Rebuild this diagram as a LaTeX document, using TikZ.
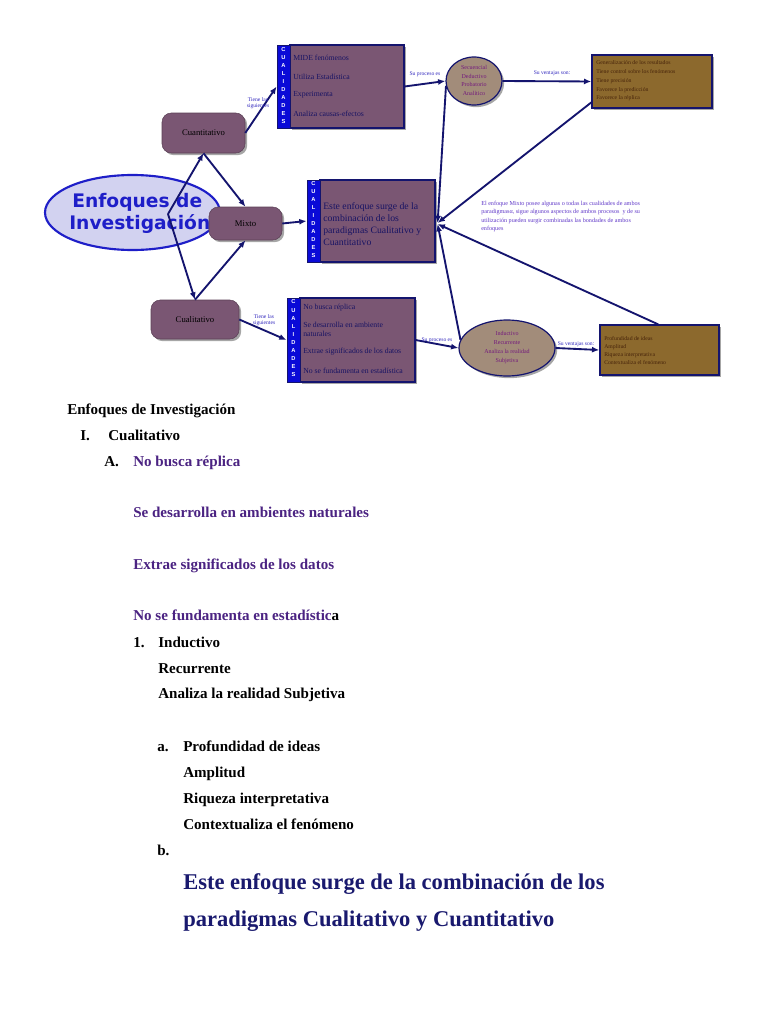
\documentclass[tikz,border=0pt]{standalone}
\usepackage{fontspec}
\setmainfont{Liberation Serif}
\newfontfamily\dvs{DejaVu Sans}
\newfontfamily\lsans{Liberation Sans}
\usetikzlibrary{shapes.geometric,arrows.meta,shadows,calc}
\definecolor{navy}{RGB}{20,20,110}
\definecolor{mauve}{RGB}{122,86,115}
\definecolor{stripblue}{RGB}{10,10,215}
\definecolor{tanell}{RGB}{162,140,122}
\definecolor{brownbox}{RGB}{140,105,45}
\definecolor{lav}{RGB}{210,210,240}
\definecolor{titleblue}{RGB}{30,30,200}
\definecolor{purp}{RGB}{75,35,130}
\definecolor{lblblue}{RGB}{50,40,190}
\definecolor{itemnavy}{RGB}{25,20,100}
\definecolor{boxtext}{RGB}{70,35,10}
\definecolor{elltext}{RGB}{115,25,125}
\definecolor{paratext}{RGB}{95,55,200}
\definecolor{bignavy}{RGB}{25,25,110}
\tikzset{
  shad/.style={drop shadow={shadow xshift=1.6pt,shadow yshift=-1.6pt,fill=black,opacity=0.35}},
  rbox/.style={shad,draw=mauve!75!black,line width=0.4pt,fill=mauve,rounded corners=7pt,inner sep=0pt,font=\fontsize{6.5}{7}\selectfont},
  qbox/.style={shad,draw=navy,line width=0.9pt,fill=mauve,inner sep=0pt},
  strip/.style={draw=navy,line width=0.6pt,fill=stripblue,inner sep=0pt},
  sletter/.style={font=\lsans\bfseries\fontsize{4.3}{5}\selectfont,text=white,inner sep=0pt},
  item/.style={anchor=west,inner sep=0pt,text=itemnavy,font=\fontsize{5.8}{6}\selectfont},
  ell/.style={ellipse,shad,draw=navy,line width=0.9pt,fill=tanell,inner sep=0pt},
  etext/.style={inner sep=0pt,text=elltext,font=\fontsize{4.5}{5}\selectfont},
  bbox/.style={shad,draw=navy,line width=1pt,fill=brownbox,inner sep=0pt},
  btext/.style={anchor=west,inner sep=0pt,text=boxtext,font=\fontsize{4.2}{5}\selectfont},
  conn/.style={draw=navy,line width=1.4pt,-{Latex[length=5.5pt,width=4.5pt]}},
  lbl/.style={inner sep=0pt,text=lblblue,font=\fontsize{4.2}{5}\selectfont,align=center},
  doc/.style={anchor=base west,inner sep=0pt,font=\bfseries\fontsize{11.3}{12}\selectfont},
  docp/.style={doc,text=purp},
  big/.style={anchor=base west,inner sep=0pt,text=bignavy,font=\bfseries\fontsize{16.9}{18}\selectfont}
}
\begin{document}
\begin{tikzpicture}[x=0.75pt,y=-0.75pt]
\useasboundingbox[fill=white] (0,0) rectangle (768,1024);

% title ellipse
\node[ellipse,draw=titleblue,line width=1.6pt,fill=lav,minimum width=131.25pt,minimum height=56.25pt] (title) at (132.5,212.5) {};
\node[anchor=base west,inner sep=0pt,text=titleblue,font=\dvs\bfseries\fontsize{14}{16.5}\selectfont] (titleA) at (72,207) {Enfoques de};
\node[anchor=base west,inner sep=0pt,text=titleblue,font=\dvs\bfseries\fontsize{14}{16.5}\selectfont] (titleB) at (69,229) {Investigación};
\coordinate (hub) at (168,214);

% rounded boxes
\node[rbox,minimum width=62.25pt,minimum height=30pt] (cuant) at (203.5,133) {Cuantitativo};
\node[rbox,minimum width=66pt,minimum height=29.25pt] (cual) at (195,319.5) {Cualitativo};

% arrows from title hub
\draw[conn] (hub) -- (cuant.south);
\draw[conn] (hub) -- (cual.north);
\node[rbox,minimum width=54.75pt,minimum height=24.75pt] (mixto) at (245.5,223.5) {Mixto};
\draw[conn] (cuant.south) -- (mixto.north);
\draw[conn] (cual.north) -- (mixto.south);

% top cualidades box
\node[qbox,minimum width=85.5pt,minimum height=62.25pt] (topbox) at (347,86.5) {};
\node[strip,minimum width=9.75pt,minimum height=62.25pt] (topstrip) at (283.5,86.5) {};
\foreach \l [count=\i from 0] in {C,U,A,L,I,D,A,D,E,S}
  \node[sletter] (ts\i) at (283.5,49.5+\i*8) {\l};
\node[item] (t1) at (293,58) {MIDE fenómenos};
\node[item] (t2) at (293,77) {Utiliza Estadística};
\node[item] (t3) at (293,95) {Experimenta};
\node[item] (t4) at (293,114) {Analiza causas-efectos};

% middle cualidades box
\node[qbox,minimum width=86.25pt,minimum height=61.5pt] (midbox) at (377.5,221) {};
\node[strip,minimum width=9.75pt,minimum height=61.5pt] (midstrip) at (313.5,221) {};
\foreach \l [count=\i from 0] in {C,U,A,L,I,D,A,D,E,S}
  \node[sletter] (ms\i) at (313.5,184+\i*8) {\l};
\node[anchor=west,inner sep=0pt,text=itemnavy,align=left,font=\fontsize{7.3}{9}\selectfont] (midtext) at (323,224)
  {Este enfoque surge de la\\combinación de los\\paradigmas Cualitativo y\\Cuantitativo};

% bottom cualidades box
\node[qbox,minimum width=86.25pt,minimum height=63pt] (botbox) at (357.5,340) {};
\node[strip,minimum width=9.75pt,minimum height=63pt] (botstrip) at (293.5,340) {};
\foreach \l [count=\i from 0] in {C,U,A,L,I,D,A,D,E,S}
  \node[sletter] (bs\i) at (293.5,302+\i*8.1) {\l};
\node[item] (b1) at (303,308) {No busca réplica};
\node[item,align=left,font=\fontsize{5.8}{7.2}\selectfont] (b2) at (303,329.5) {Se desarrolla en ambiente\\naturales};
\node[item] (b3) at (303,352) {Extrae significados de los datos};
\node[item] (b4) at (303,370.5) {No se fundamenta en estadística};

% ellipses
\node[ell,minimum width=42pt,minimum height=36pt] (topell) at (474,81) {};
\node[etext,align=center,font=\fontsize{4.5}{6.6}\selectfont] (topelltext) at (474,80.5) {Secuencial\\Deductivo\\Probatorio\\Analítico};
\node[ell,minimum width=72pt,minimum height=42pt] (botell) at (507,348) {};
\node[etext,align=center,font=\fontsize{4.5}{6.6}\selectfont] (botelltext) at (507,347.5) {Inductivo\\Recurrente\\Analiza la realidad\\Subjetiva};

% brown boxes
\node[bbox,minimum width=90pt,minimum height=39.75pt] (topbrown) at (652,81.5) {};
\node[btext,align=left,font=\fontsize{4.3}{6.6}\selectfont] (topbrowntext) at (596,81)
  {Generalización de los resultados\\Tiene control sobre los fenómenos\\Tiene precisión\\Favorece la predicción\\Favorece la réplica};
\node[bbox,minimum width=89.25pt,minimum height=37.5pt] (botbrown) at (659.5,350) {};
\node[btext,align=left,font=\fontsize{4.3}{6.2}\selectfont] (botbrowntext) at (604,350.5)
  {Profundidad de ideas\\Amplitud\\Riqueza interpretativa\\Contextualiza el fenómeno};

% connectors
\draw[conn] (mixto.east) -- (midstrip.west);
\draw[conn] (cuant.east) -- (topstrip.west);
\draw[conn] (cual.east) -- (botstrip.west);
\draw[conn] (topbox.east) -- (topell.west);
\draw[conn] (topell.east) -- (topbrown.west);
\draw[conn] (botbox.east) -- (botell.west);
\draw[conn] (botell.east) -- (botbrown.west);
\draw[conn] (topell.190) -- ($(midbox.east)+(2,2)$);
\draw[conn] (botell.170) -- ($(midbox.east)+(2,3)$);
\draw[conn] (topbrown.199) -- ($(midbox.east)+(2,2)$);
\draw[conn] (botbrown.93) -- ($(midbox.east)+(2,3)$);

% labels
\node[lbl] (l1) at (258,103) {Tiene las\\siguientes};
\node[lbl] (l2) at (264,320) {Tiene las\\siguientes};
\node[lbl] (l3) at (425,74) {Su proceso es};
\node[lbl] (l4) at (552,73) {Su ventajas son:};
\node[lbl] (l5) at (437,340) {Su proceso es};
\node[lbl] (l6) at (576,344) {Su ventajas son:};
\node[anchor=north west,inner sep=0pt,text=paratext,align=left,font=\fontsize{4.6}{6.3}\selectfont] (para) at (481,201)
  {El enfoque Mixto posee algunas o todas las cualidades de ambos\\paradigmasα, sigue algunos aspectos de ambos procesos\ \ y de su\\utilización pueden surgir combinadas las bondades de ambos\\enfoques};

% document text
\node[doc] (d1) at (67,414) {Enfoques de Investigación};
\node[doc] (d2n) at (80,440) {I.};
\node[doc] (d2) at (108,440) {Cualitativo};
\node[doc] (d3n) at (104,466) {A.};
\node[docp] (d3) at (133,466) {No busca réplica};
\node[docp] (d4) at (133,517) {Se desarrolla en ambientes naturales};
\node[docp] (d5) at (133,569) {Extrae significados de los datos};
\node[docp] (d6) at (133,620) {No se fundamenta en estadístic\textcolor{black}{a}};
\node[doc] (d7n) at (133,647) {1.};
\node[doc] (d7) at (158,647) {Inductivo};
\node[doc] (d8) at (158,673) {Recurrente};
\node[doc] (d9) at (158,698) {Analiza la realidad Subjetiva};
\node[doc] (d10n) at (157,751) {a.};
\node[doc] (d10) at (183,751) {Profundidad de ideas};
\node[doc] (d11) at (183,777) {Amplitud};
\node[doc] (d12) at (183,803) {Riqueza interpretativa};
\node[doc] (d13) at (183,829) {Contextualiza el fenómeno};
\node[doc] (d14n) at (157,855) {b.};
\node[big] (d15) at (183,889) {Este enfoque surge de la combinación de los};
\node[big] (d16) at (183,926) {paradigmas Cualitativo y Cuantitativo};
\end{tikzpicture}
\end{document}
